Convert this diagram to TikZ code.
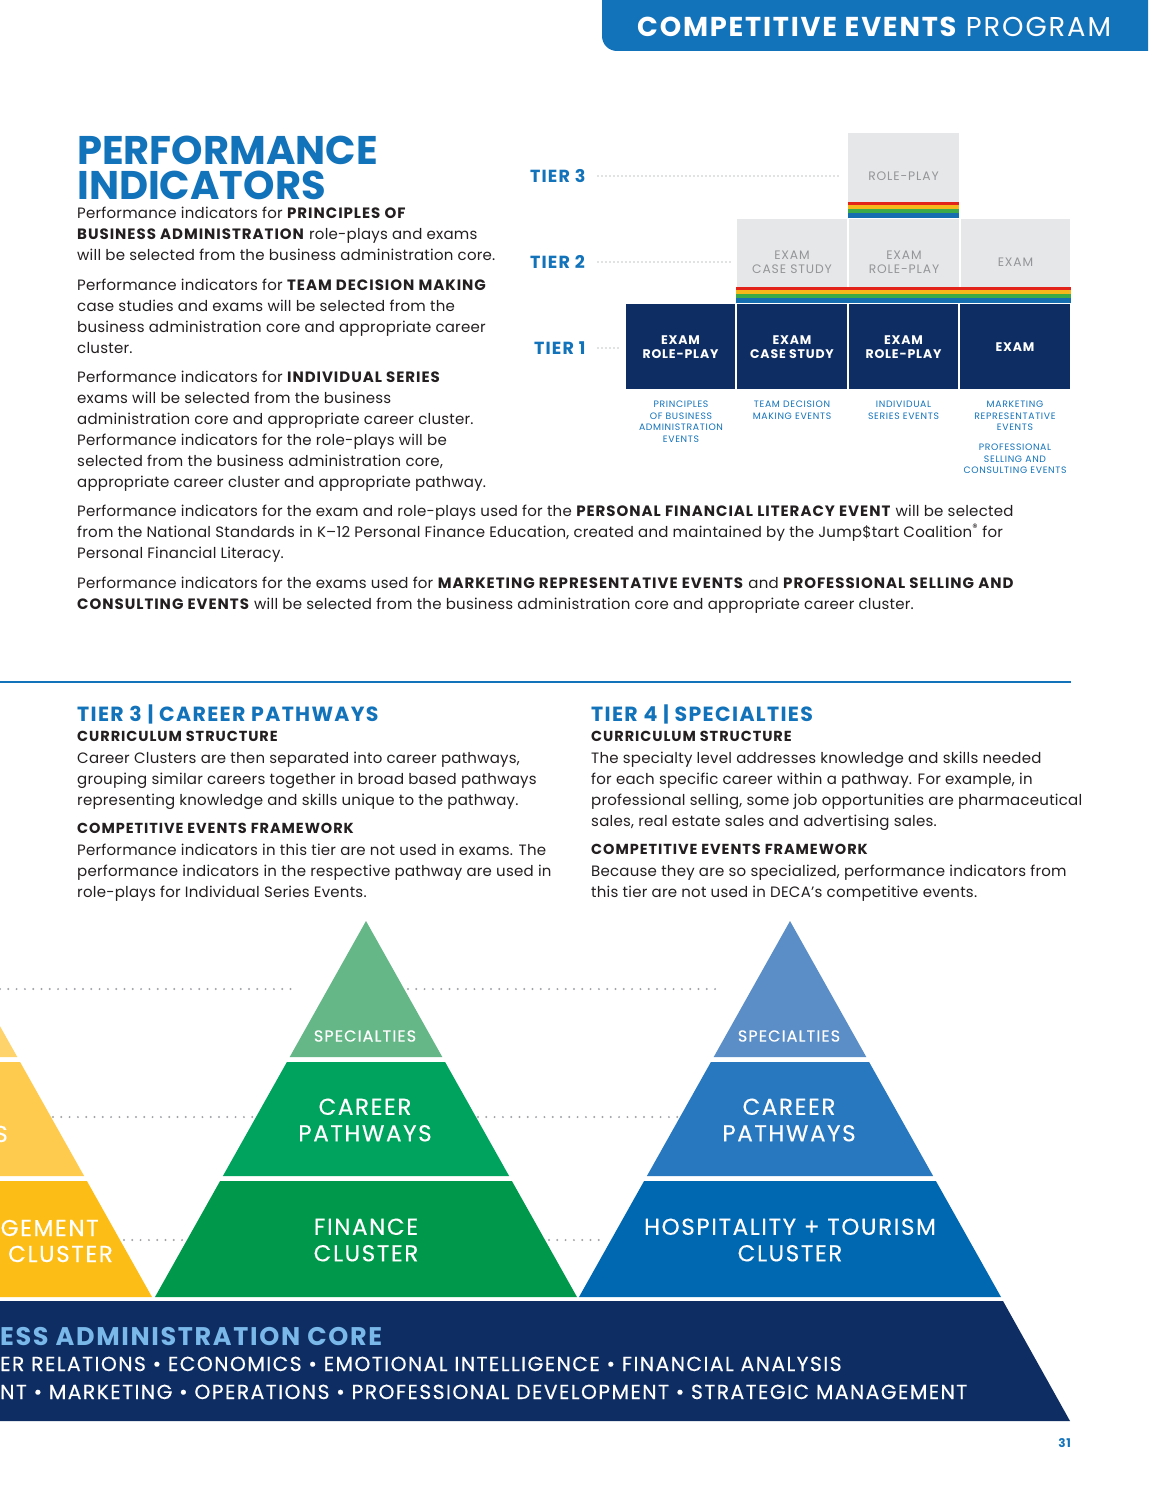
\documentclass[tikz,border=0pt]{standalone}
\usepackage{fontspec}
\setmainfont{Poppins}[LetterSpace=1.5, BoldFeatures={LetterSpace=6.5}]
\newfontfamily\plainfont{Poppins}
\newfontfamily\capsfont{Poppins}[LetterSpace=7]
\newfontfamily\medfont{Poppins}[FakeBold=0.4, LetterSpace=7]
\definecolor{decablue}{RGB}{18,114,186}
\definecolor{navy}{RGB}{14,46,99}
\definecolor{boxgray}{RGB}{230,231,232}
\definecolor{boxtext}{RGB}{147,149,152}
\definecolor{bodytext}{RGB}{35,31,32}
\definecolor{dotgray}{RGB}{160,162,165}
\definecolor{rbred}{RGB}{226,35,26}
\definecolor{rbyel}{RGB}{246,183,27}
\definecolor{rbgreen}{RGB}{60,170,70}
\definecolor{rbblue}{RGB}{20,110,176}
\definecolor{gA}{RGB}{102,183,135}
\definecolor{gB}{RGB}{0,163,94}
\definecolor{gC}{RGB}{0,152,74}
\definecolor{bA}{RGB}{91,142,198}
\definecolor{bB}{RGB}{40,120,191}
\definecolor{bC}{RGB}{0,103,177}
\definecolor{yA}{RGB}{255,211,107}
\definecolor{yB}{RGB}{255,203,79}
\definecolor{yC}{RGB}{253,189,23}
\definecolor{corelight}{RGB}{122,184,234}
\newcommand\drawpyr[5]{%
  \fill[#2] ({#1},921) -- ({#1+76.3},1057) -- ({#1-76.3},1057) -- cycle;
  \fill[#3] ({#1-79.1},1062) -- ({#1+79.1},1062) -- ({#1+143.1},1176) -- ({#1-143.1},1176) -- cycle;
  \fill[#4] ({#1-145.9},1181) -- ({#1+145.9},1181) -- ({#1+211},1297) -- ({#1-211},1297) -- cycle;
  \coordinate (#5L1) at ({#1-72},989);
  \coordinate (#5R1) at ({#1+42},989);
  \coordinate (#5L2) at ({#1-112},1117);
  \coordinate (#5R2) at ({#1+112},1117);
  \coordinate (#5L3) at ({#1-183},1240);
  \coordinate (#5R3) at ({#1+183},1240);
}
\newcommand\rainbowbar[3]{%
  \fill[rbred] ({#1},{#3}) rectangle ({#2},{#3+3});
  \fill[rbyel] ({#1},{#3+3}) rectangle ({#2},{#3+6.5});
  \fill[rbgreen] ({#1},{#3+6.5}) rectangle ({#2},{#3+11});
  \fill[rbblue] ({#1},{#3+11}) rectangle ({#2},{#3+16});
}
\begin{document}
\begin{tikzpicture}[x=1pt,y=-1pt,
  body/.style={font=\fontsize{15}{21}\selectfont, text=bodytext, align=left, anchor=base west, inner sep=0pt},
  subhead/.style={font=\fontsize{14.5}{21}\selectfont\bfseries, text=bodytext, anchor=base west, inner sep=0pt},
  sechead/.style={font=\fontsize{20.5}{24}\selectfont\bfseries, text=decablue, anchor=base west, inner sep=0pt},
  tierlab/.style={font=\fontsize{17.5}{20}\selectfont\bfseries, text=decablue, anchor=base west, inner sep=0pt},
  navybox/.style={fill=navy},
  graybox/.style={fill=boxgray},
  navytext/.style={font=\fontsize{12.5}{14.5}\selectfont\bfseries, text=white, align=center, inner sep=0pt},
  graytext/.style={font=\capsfont\fontsize{12.3}{14.5}\selectfont, text=boxtext, align=center, inner sep=0pt},
  evlab/.style={font=\capsfont\fontsize{9.3}{11.5}\selectfont, text=decablue, align=center, anchor=north, inner sep=0pt},
  smalldots/.style={draw=dotgray!80!black, line width=1.2pt, line cap=round, dash pattern=on 0pt off 4pt},
  bigdots/.style={draw=dotgray, line width=2.2pt, line cap=round, dash pattern=on 0pt off 8.3pt},
  pyrsmall/.style={font=\medfont\fontsize{16}{18}\selectfont, text=white, align=center, inner sep=0pt},
  pyrbig/.style={font=\medfont\fontsize{23}{26.5}\selectfont, text=white, align=center, inner sep=0pt},
  coreline/.style={font=\medfont\fontsize{20.3}{22}\selectfont, text=white, anchor=base west, inner sep=0pt},
]
\useasboundingbox (0,0) rectangle (1148,1490);
\clip (0,0) rectangle (1148,1490);
\fill[white] (0,0) rectangle (1148,1490);

% header tab
\fill[decablue, rounded corners=15pt] (602,-30) rectangle (1180,51);
\node[anchor=base west, inner sep=0pt, text=white, font=\fontsize{27.3}{30}\selectfont] (hdr) at (637,37)
  {\textbf{COMPETITIVE EVENTS} {\capsfont PROGRAM}};

% title
\node[anchor=base west, inner sep=0pt, text=decablue, font=\plainfont\fontsize{40}{35}\selectfont\bfseries, align=left] (title) at (77,200)
  {PERFORMANCE\\INDICATORS};

% left column paragraphs (anchor = baseline of last line)
\node[body] (p1) at (77,260) {Performance indicators for \textbf{PRINCIPLES OF}\\\textbf{BUSINESS ADMINISTRATION} role-plays and exams\\will be selected from the business administration core.};
\node[body] (p2) at (77,353) {Performance indicators for \textbf{TEAM DECISION MAKING}\\case studies and exams will be selected from the\\business administration core and appropriate career\\cluster.};
\node[body] (p3) at (77,487) {Performance indicators for \textbf{INDIVIDUAL SERIES}\\exams will be selected from the business\\administration core and appropriate career cluster.\\Performance indicators for the role-plays will be\\selected from the business administration core,\\appropriate career cluster and appropriate pathway.};
\node[body] (p4) at (77,558) {Performance indicators for the exam and role-plays used for the \textbf{PERSONAL FINANCIAL LITERACY EVENT} will be selected\\from the National Standards in K–12 Personal Finance Education, created and maintained by the Jump\$tart Coalition\textsuperscript{®} for\\Personal Financial Literacy.};
\node[body] (p5) at (77,609) {Performance indicators for the exams used for \textbf{MARKETING REPRESENTATIVE EVENTS} and \textbf{PROFESSIONAL SELLING AND}\\\textbf{CONSULTING EVENTS} will be selected from the business administration core and appropriate career cluster.};

% tier chart
\node[tierlab] (t3) at (530,182.5) {TIER 3};
\node[tierlab] (t2) at (530,268.5) {TIER 2};
\node[tierlab] (t1) at (534,354.5) {TIER 1};

\fill[graybox] (848,133) rectangle (959,202);
\rainbowbar{848}{959}{202}
\node[graytext] (r3) at (903.5,176) {ROLE-PLAY};

\fill[graybox] (737,219) rectangle (847,287);
\fill[graybox] (849,219) rectangle (959,287);
\fill[graybox] (961,219) rectangle (1070,287);
\rainbowbar{736}{1071}{287}
\node[graytext] (r2a) at (792,262) {EXAM\\CASE STUDY};
\node[graytext] (r2b) at (904,262) {EXAM\\ROLE-PLAY};
\node[graytext] (r2c) at (1015.5,262) {EXAM};

\fill[navybox] (626,304) rectangle (735,389);
\fill[navybox] (737,304) rectangle (847,389);
\fill[navybox] (849,304) rectangle (958,389);
\fill[navybox] (960,304) rectangle (1070,389);
\node[navytext] (r1a) at (680.5,347) {EXAM\\ROLE-PLAY};
\node[navytext] (r1b) at (792,347) {EXAM\\CASE STUDY};
\node[navytext] (r1c) at (903.5,347) {EXAM\\ROLE-PLAY};
\node[navytext] (r1d) at (1015,347) {EXAM};

\coordinate (d3a) at (598,176); \coordinate (d3b) at (838,176);
\coordinate (d2a) at (598,262); \coordinate (d2b) at (731,262);
\coordinate (d1a) at (598,348); \coordinate (d1b) at (619,348);
\draw[smalldots] (d3a) -- (d3b);
\draw[smalldots] (d2a) -- (d2b);
\draw[smalldots] (d1a) -- (d1b);

\node[evlab] (e1) at (681,401) {PRINCIPLES\\OF BUSINESS\\ADMINISTRATION\\EVENTS};
\node[evlab] (e2) at (792,401) {TEAM DECISION\\MAKING EVENTS};
\node[evlab] (e3) at (903.5,401) {INDIVIDUAL\\SERIES EVENTS};
\node[evlab] (e4) at (1015,401) {MARKETING\\REPRESENTATIVE\\EVENTS};
\node[evlab] (e5) at (1015,444) {PROFESSIONAL\\SELLING AND\\CONSULTING EVENTS};

% rule
\coordinate (ruleA) at (0,682); \coordinate (ruleB) at (1071,682);
\draw[decablue, line width=1.8pt] (ruleA) -- (ruleB);

% lower text
\node[sechead] (h3) at (77,721) {TIER 3 | CAREER PATHWAYS};
\node[subhead] (cs3) at (77,741) {CURRICULUM STRUCTURE};
\node[body] (b3a) at (77,805) {Career Clusters are then separated into career pathways,\\grouping similar careers together in broad based pathways\\representing knowledge and skills unique to the pathway.};
\node[subhead] (cf3) at (77,833) {COMPETITIVE EVENTS FRAMEWORK};
\node[body] (b3b) at (77,897) {Performance indicators in this tier are not used in exams. The\\performance indicators in the respective pathway are used in\\role-plays for Individual Series Events.};

\node[sechead] (h4) at (591,721) {TIER 4 | SPECIALTIES};
\node[subhead] (cs4) at (591,741) {CURRICULUM STRUCTURE};
\node[body] (b4a) at (591,826) {The specialty level addresses knowledge and skills needed\\for each specific career within a pathway. For example, in\\professional selling, some job opportunities are pharmaceutical\\sales, real estate sales and advertising sales.};
\node[subhead] (cf4) at (591,854) {COMPETITIVE EVENTS FRAMEWORK};
\node[body] (b4b) at (591,897) {Because they are so specialized, performance indicators from\\this tier are not used in DECA’s competitive events.};

% pyramids
\drawpyr{-59}{yA}{yB}{yC}{Y}
\drawpyr{366}{gA}{gB}{gC}{G}
\drawpyr{790}{bA}{bB}{bC}{B}

\coordinate (edge0) at (0,989);
\draw[bigdots] (edge0) -- (GL1);
\draw[bigdots] (GR1) -- (BL1);
\draw[bigdots] (YR2) -- (GL2);
\draw[bigdots] (GR2) -- (BL2);
\draw[bigdots] (YR3) -- (GL3);
\draw[bigdots] (GR3) -- (BL3);

\node[pyrsmall] (gs) at (365,1036) {SPECIALTIES};
\node[pyrbig] (gp) at (365,1120) {CAREER\\PATHWAYS};
\node[pyrbig] (gc) at (366,1240) {FINANCE\\CLUSTER};
\node[pyrsmall] (bs) at (789,1036) {SPECIALTIES};
\node[pyrbig] (bp) at (789,1120) {CAREER\\PATHWAYS};
\node[pyrbig] (bc) at (790,1240) {HOSPITALITY + TOURISM\\CLUSTER};
\node[pyrbig, anchor=base east] (ys) at (8,1142) {S};
\node[pyrbig, anchor=base west] (yc1) at (0.5,1236) {GEMENT};
\node[pyrbig, anchor=base east] (yc2) at (113,1262) {CLUSTER};

% core band
\fill[navy] (-10,1301) -- (1003,1301) -- (1070,1421) -- (-10,1421) -- cycle;
\node[anchor=base west, inner sep=0pt, text=corelight, font=\fontsize{25.5}{28}\selectfont\bfseries] (core) at (0,1345) {ESS ADMINISTRATION CORE};
\node[coreline] (core2) at (0,1371) {ER RELATIONS • ECONOMICS • EMOTIONAL INTELLIGENCE • FINANCIAL ANALYSIS};
\node[coreline] (core3) at (0,1399) {NT • MARKETING • OPERATIONS • PROFESSIONAL DEVELOPMENT • STRATEGIC MANAGEMENT};

% page number
\node[anchor=base east, inner sep=0pt, text=decablue, font=\fontsize{12}{14}\selectfont\bfseries] (pg) at (1071,1447) {31};
\end{tikzpicture}
\end{document}
